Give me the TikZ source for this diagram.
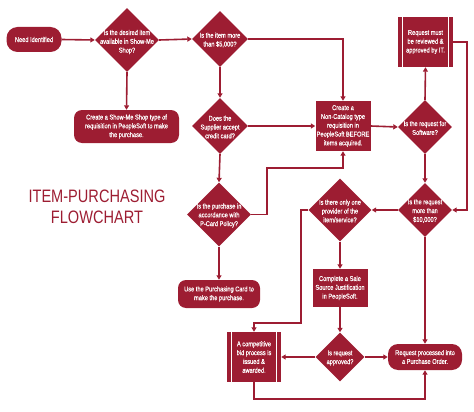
\documentclass[tikz,border=0pt]{standalone}
\usepackage{fontspec}
\setmainfont{Liberation Sans}[FakeStretch=0.81]
\newfontfamily\boxfont{Liberation Sans}[FakeStretch=0.81,FakeBold=0.6]
\usetikzlibrary{shapes.geometric,arrows.meta}
\definecolor{maroon}{RGB}{157,29,50}
\begin{document}
\begin{tikzpicture}[x=1pt,y=-1pt,
  box/.style={fill=maroon,draw=none,inner sep=0,minimum width=#1},
  rbox/.style={box=#1,rounded corners=8pt},
  dia/.style={diamond,fill=maroon,draw=none,inner sep=0,minimum width=#1,minimum height=#1},
  txt/.style={text=white,align=center,inner sep=0,font=\boxfont\fontsize{7}{8.8}\selectfont},
  conn/.style={draw=maroon,line width=1.6pt,-{Triangle[width=5pt,length=4.5pt]}},
  stripe/.style={draw=white,line width=0.9pt}]
\useasboundingbox (0,0) rectangle (474,412);

% title
\node[text=maroon,align=center,inner sep=0,font=\fontsize{18}{20.5}\selectfont] (title) at (97,207) {ITEM-PURCHASING\\FLOWCHART};

% shapes
\node[rbox=55pt,minimum height=25pt,rounded corners=11pt] (need) at (34,39.5) {};
\node[txt] (needt) at (need) {Need Identified};

\node[dia=64pt] (d1) at (127,40) {};
\node[txt] (d1t) at (127,42) {Is the desired item\\available in Show-Me\\Shop?};

\node[dia=56pt] (d2) at (220,39) {};
\node[txt] (d2t) at (220,40) {Is the item more\\than \$5,000?};

\node[rbox=105pt,minimum height=33pt] (showme) at (126.5,126.5) {};
\node[txt] (showmet) at (showme) {Create a Show-Me Shop type of\\requisition in PeopleSoft to make\\the purchase.};

\node[dia=56pt] (d3) at (220,126) {};
\node[txt] (d3t) at (220,127) {Does the\\Supplier accept\\credit card?};

\node[box=55pt,minimum height=50pt] (noncat) at (343,126) {};
\node[txt] (noncatt) at (noncat) {Create a\\Non-Catalog type\\requisition in\\PeopleSoft BEFORE\\items acquired.};

\node[dia=54pt] (sw) at (425,127) {};
\node[txt] (swt) at (425,128) {Is the request for\\Software?};

\node[box=55pt,minimum height=50pt] (it) at (425.5,42) {};
\draw[stripe] ([xshift=5pt]it.north west) -- ([xshift=5pt]it.south west);
\draw[stripe] ([xshift=-5pt]it.north east) -- ([xshift=-5pt]it.south east);
\node[txt] (itt) at (it) {Request must\\be reviewed \&\\approved by IT.};

\node[dia=54pt] (ten) at (425,210) {};
\node[txt] (tent) at (425,211) {Is the request\\more than\\\$10,000?};

\node[dia=63pt] (prov) at (340,210) {};
\node[txt] (provt) at (340,211) {Is there only one\\provider of the\\item/service?};

\node[rbox=74pt,minimum height=26pt,rounded corners=10pt] (po) at (425,357) {};
\node[txt] (pot) at (po) {Request processed into\\a Purchase Order.};

\node[box=55pt,minimum height=38pt] (sale) at (340,288) {};
\node[txt] (salet) at (sale) {Complete a Sale\\Source Justification\\in PeopleSoft.};

\node[dia=49pt] (appr) at (340,357) {};
\node[txt] (apprt) at (340,358) {Is request\\approved?};

\node[box=54pt,minimum height=50pt] (bid) at (254,357) {};
\draw[stripe] ([xshift=5pt]bid.north west) -- ([xshift=5pt]bid.south west);
\draw[stripe] ([xshift=-5pt]bid.north east) -- ([xshift=-5pt]bid.south east);
\node[txt] (bidt) at (bid) {A competitive\\bid process is\\issued \&\\awarded.};

\node[dia=64pt] (pcard) at (219,214.5) {};
\node[txt] (pcardt) at (219,215.5) {Is the purchase in\\accordance with\\P-Card Policy?};

\node[rbox=82pt,minimum height=28pt] (pcbox) at (219,294) {};
\node[txt] (pcboxt) at (pcbox) {Use the Purchasing Card to\\make the purchase.};

% helper coordinates
\coordinate (c1) at (267,168);
\coordinate (c2) at (467,120);
\coordinate (c3) at (301,323);
\coordinate (c4) at (340,399);

% connectors
\draw[conn] (need.east) -- (d1.west);
\draw[conn] (d1.east) -- (d2.west);
\draw[conn] (d1.south) -- (showme.north);
\draw[conn] (d2.south) -- (d3.north);
\draw[conn] (d2.east) -| (noncat.north);
\draw[conn] (d3.east) -- (noncat.west);
\draw[conn] (d3.south) -- (pcard.north);
\draw[conn] (pcard.east) -| (c1) -| (noncat.south);
\draw[conn] (pcard.south) -- (pcbox.north);
\draw[conn] (noncat.east) -- (sw.west);
\draw[conn] (sw.north) -- (it.south);
\draw[conn] (sw.south) -- (ten.north);
\draw[conn] (it.east) -- (it.east -| c2) |- (ten.east);
\draw[conn] (ten.west) -- (prov.east);
\draw[conn] (ten.south) -- (po.north);
\draw[conn] (prov.south) -- (sale.north);
\draw[conn] (prov.west) -| (c3) -| (bid.north);
\draw[conn] (sale.south) -- (appr.north);
\draw[conn] (appr.west) -- (bid.east);
\draw[conn] (appr.east) -- (po.west);
\draw[conn] (bid.south) |- (c4) -| (po.south);
\end{tikzpicture}
\end{document}
